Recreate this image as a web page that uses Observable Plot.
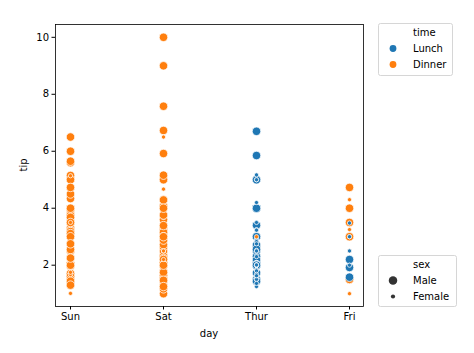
<!DOCTYPE html>
<html><head><meta charset="utf-8">
<script src="https://cdn.jsdelivr.net/npm/d3@7"></script>
<script src="https://cdn.jsdelivr.net/npm/@observablehq/plot@0.6"></script>
<style>body{margin:0;background:#fff}#chart{width:474px;height:353px}</style>
</head><body><div id="chart"></div>
<script>
const days = ["Sun", "Sat", "Thur", "Fri"];
const timeLevels = ["Lunch", "Dinner"];
const timeColors = ["#1f77b4", "#ff7f0e"];
const sexLevels = ["Male", "Female"];
const yTicks = [2, 4, 6, 8, 10];

// female tips recorded before the male rows (drawn underneath) and after them (drawn on top)
const sunDinnerFemaleEarly = [1.01,3.61,3.02,2.6,5.2,4.0,2.61,2.0,2.0,4.0,2.5,3.0];
const sunDinnerMale = [1.66,3.5,3.31,4.71,2.0,3.12,1.96,3.23,1.71,5.0,1.57,3.0,3.92,3.71,2.54,3.06,1.32,5.6,3.0,5.0,6.0,2.05,3.0,2.5,1.56,4.34,3.51,4.0,2.55,3.5,5.07,2.5,2.0,2.74,2.0,2.0,5.0,3.75,2.0,3.5,2.5,2.0,3.0,3.48,2.24,4.5,1.61,5.15,3.18,4.0,3.11,2.0,2.0,2.55,3.68,5.65,3.5,6.5,3.0,5.0,1.5,1.44,2.25,4.73,2.75,1.3];
const sunDinnerFemaleLate = [1.67,3.5,5.14,1.75];
const satDinnerFemaleEarly = [2.75,3.0,3.0,2.45,3.07,2.47,1.0,3.0,3.14,3.48,1.0,1.1,3.09,2.0,2.0,1.25];
const satDinnerMale = [3.35,4.08,2.23,7.58,3.18,2.34,2.0,2.0,4.3,1.45,2.5,3.27,3.6,2.0,2.31,5.0,2.24,3.0,1.5,1.76,6.73,3.21,2.0,1.98,3.76,2.64,3.15,2.01,2.09,1.97,5.0,2.2,1.25,3.08,4.08,1.64,4.06,4.29,3.76,4.0,3.0,10.0,3.16,2.0,5.16,9.0,3.0,1.5,1.44,1.0,1.17,5.92,2.0,1.75,2.72,2.88,3.39,1.47,3.0,1.25,2.0];
const satDinnerFemaleLate = [2.5,2.5,6.5,4.67,2.2];
const thurLunchMale = [4.0,3.0,2.71,3.0,3.4,5.0,2.03,2.0,4.0,5.85,3.0,2.31,2.5,2.0,1.48,2.18,1.5,2.0,6.7,5.0,1.73,2.0,2.56,2.02,4.0,1.44,2.0,2.0,4.0];
const thurLunchFemale = [1.83,5.17,1.5,1.8,2.92,1.68,2.52,4.2,2.0,2.0,2.83,1.5,2.0,3.25,1.25,2.0,2.0,2.75,3.5,5.0,2.3,1.5,1.36,1.63,5.0,2.0,2.0,2.01,2.5,3.23];
const friDinnerMale = [3.0,3.5,4.73,4.0,1.5,3.0,1.5];
const friDinnerFemale = [1.0,4.3,3.25,2.5,3.0];
const friLunchMale = [2.2,1.92,1.58];
const friLunchFemale = [3.48,3.0,2.5,2.0];
const thurDinnerFemale = [3.0];

const groups = [
  {day: "Sun", time: "Dinner", sex: "Female", tips: sunDinnerFemaleEarly},
  {day: "Sun", time: "Dinner", sex: "Male", tips: sunDinnerMale},
  {day: "Sun", time: "Dinner", sex: "Female", tips: sunDinnerFemaleLate},
  {day: "Sat", time: "Dinner", sex: "Female", tips: satDinnerFemaleEarly},
  {day: "Sat", time: "Dinner", sex: "Male", tips: satDinnerMale},
  {day: "Sat", time: "Dinner", sex: "Female", tips: satDinnerFemaleLate},
  {day: "Thur", time: "Lunch", sex: "Male", tips: thurLunchMale},
  {day: "Thur", time: "Lunch", sex: "Female", tips: thurLunchFemale},
  {day: "Fri", time: "Dinner", sex: "Male", tips: friDinnerMale},
  {day: "Fri", time: "Dinner", sex: "Female", tips: friDinnerFemale},
  {day: "Fri", time: "Lunch", sex: "Male", tips: friLunchMale},
  {day: "Fri", time: "Lunch", sex: "Female", tips: friLunchFemale},
  {day: "Thur", time: "Dinner", sex: "Female", tips: thurDinnerFemale}
];
const rows = groups.flatMap(g => g.tips.map(tip => ({day: g.day, time: g.time, sex: g.sex, tip})));
const sexRadius = {Male: 4.24, Female: 2.12};

const svg = Plot.plot({
  width: 474, height: 353,
  marginLeft: 55, marginRight: 111, marginTop: 24, marginBottom: 47,
  style: {fontFamily: "'DejaVu Sans', sans-serif", fontSize: "10px", color: "#000", background: "#fff", overflow: "visible"},
  x: {type: "point", domain: days, padding: 0.15},
  y: {domain: [0.55, 10.45]},
  color: {domain: timeLevels, range: timeColors},
  r: {type: "identity"},
  marks: [
    Plot.dot(rows, {x: "day", y: "tip", fill: "time", r: d => sexRadius[d.sex], stroke: "white", strokeWidth: 0.75, sort: null}),
    Plot.frame({stroke: "#000", strokeWidth: 0.8}),
    Plot.axisX({tickSize: 3.5, tickPadding: 3, label: null, fontSize: 10}),
    Plot.axisY({ticks: yTicks, tickSize: 3.5, tickPadding: 3, label: null, fontSize: 10})
  ]
});
document.getElementById("chart").appendChild(svg);

const s = d3.select(svg);
const font = "'DejaVu Sans', sans-serif";
// axis labels
s.append("text").attr("x", 209).attr("y", 333).attr("text-anchor", "middle").attr("dominant-baseline", "central")
  .attr("font-family", font).attr("font-size", 10).attr("fill", "#000").text("day");
s.append("text").attr("transform", "translate(23,165) rotate(-90)").attr("text-anchor", "middle").attr("dominant-baseline", "central")
  .attr("font-family", font).attr("font-size", 10).attr("fill", "#000").text("tip");

function legend(x0, y0, w, h, title, items) {
  const g = s.append("g");
  g.append("rect").attr("x", x0).attr("y", y0).attr("width", w).attr("height", h).attr("rx", 2)
    .attr("fill", "#fff").attr("fill-opacity", 0.8).attr("stroke", "#ccc").attr("stroke-width", 0.8);
  g.append("text").attr("x", 413).attr("y", y0 + 9).attr("text-anchor", "start").attr("dominant-baseline", "central")
    .attr("font-family", font).attr("font-size", 10).attr("fill", "#000").text(title);
  items.forEach((it, i) => {
    const cy = y0 + 25 + i * 16;
    g.append("circle").attr("cx", 393).attr("cy", cy).attr("r", it.r).attr("fill", it.color);
    g.append("text").attr("x", 413).attr("y", cy).attr("text-anchor", "start").attr("dominant-baseline", "central")
      .attr("font-family", font).attr("font-size", 10).attr("fill", "#000").text(it.label);
  });
}
legend(378.5, 23.5, 74, 52, "time", timeLevels.map((t, i) => ({label: t, color: timeColors[i], r: 3.4})));
legend(378.5, 255.5, 78, 51, "sex", sexLevels.map(sx => ({label: sx, color: "#333", r: sexRadius[sx]})));
</script></body></html>
